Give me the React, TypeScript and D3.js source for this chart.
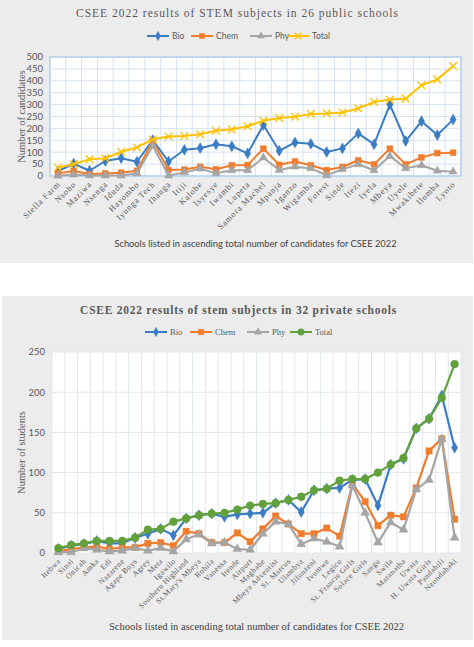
import React from "react";
import * as d3 from "d3";

const publicSchools = ["Stella Farm","Nsoho","Maziwa","Nsenga","Iduda","Hayombo","Iyunga Tech","Ihanga","Itiji","Kalobe","Isyesye","Iwambi","Lupeta","Samora Machel","Mpanja","Iganzo","Wigamba","Forest","Sinde","Itezi","Iyela","Mbeya","Uyole","Mwakibete","Ilomba","Lyoto"];
const pubBio = [20,52,22,63,75,60,151,61,110,117,133,125,95,214,106,141,135,101,116,179,133,300,147,230,172,237];
const pubChem = [11,21,8,11,14,22,147,25,27,39,28,45,46,115,47,61,45,25,38,66,49,115,49,78,96,98];
const pubPhy = [1,6,2,2,2,11,127,2,15,31,11,24,24,77,25,39,32,3,28,49,24,84,32,45,22,18];
const pubTotal = [35,50,71,74,102,120,154,166,168,175,190,196,209,232,244,249,261,263,267,284,311,321,325,381,406,462];
const pubTicks = [0,50,100,150,200,250,300,350,400,450,500];

const privSchools = ["Itebwa","Sinai","Onicah","Amka","Edi","Nazarene","Agape Boys","Agrey","Meta","Igawilo","Southern Highland","St.Mary's Mbeya","Rohila","Vanessa","Itende","Airport","Maghabe","Mbeya Adventist","St. Marcus","Ulambya","Jifunzeni","Ivumwe","Legico","St. Francis Girls","Solace Girls","Sangu","Swila","Maranatha","Uwata","H. Uwata Girls","Pandahili","Nzondahaki"];
const privBio = [5,9,11,15,12,12,19,24,30,22,43,47,49,45,48,49,50,62,66,51,78,80,81,91,92,59,110,117,155,167,196,131];
const privChem = [2,5,7,8,5,7,7,12,13,9,27,24,13,13,25,14,30,46,36,24,24,31,21,86,64,34,47,45,81,127,142,42];
const privPhy = [1,1,6,4,2,3,6,3,6,2,17,23,12,13,5,4,24,39,36,11,18,14,8,84,50,13,38,29,79,91,142,19];
const privTotal = [6,10,12,15,15,15,19,29,30,39,43,47,49,50,54,59,61,62,66,70,78,80,90,92,92,100,110,118,155,167,193,235];
const privTicks = [0,50,100,150,200,250];

const C = { bio: "#3b7dc4", chem: "#f07c2c", phy: "#a5a5a5", total: "#ffc000", green: "#62a03c" };
const serif = "'Liberation Serif', 'DejaVu Serif', serif";
const sans = "Lato, 'Open Sans', sans-serif";

type Series = { name: string; values: number[]; color: string; symbol: any; size: number; cross?: boolean };

function Marker({ x, y, s }: { x: number; y: number; s: Series }) {
  const path = d3.symbol().type(s.symbol).size(s.size)() as string;
  if (s.cross) {
    return <path d={path} transform={`translate(${x},${y})`} fill="none" stroke={s.color} strokeWidth={1.3} />;
  }
  return <path d={path} transform={`translate(${x},${y})`} fill={s.color} stroke={s.color} strokeWidth={0.5} />;
}

function Chart(props: {
  top: number; panelH: number; panelX: number; title: string; titleFont: string; titleBold: boolean; titleY: number;
  legendY: number; legendFont: string; legendX: number[];
  plot: { l: number; r: number; t: number; b: number }; yMax: number; ticks: number[];
  cats: string[]; series: Series[]; yLabel: string; xTitle: string; xTitleFont: string; xTitleY: number;
  border: boolean; gridColor: string; lineW: number; labelSize: number; labelSpacing: number;
}) {
  const p = props.plot;
  const x = d3.scaleBand().domain(props.cats).range([p.l, p.r]);
  const y = d3.scaleLinear().domain([0, props.yMax]).range([p.b, p.t]);
  const line = d3.line<number>().x((_, i) => x(props.cats[i])! + x.bandwidth() / 2).y((d) => y(d));
  const bounds = props.cats.map((c) => x(c)!).concat([p.r]);
  return (
    <g>
      <rect x={props.panelX} y={props.top} width={473 - props.panelX} height={props.panelH} fill="#ececec" />
      <text x={(p.l + p.r) / 2 - 18} y={props.titleY} textAnchor="middle" fontFamily={serif} fontSize={11.5}
        fontWeight={props.titleBold ? "bold" : "normal"} letterSpacing={props.titleBold ? 0.75 : 1.0} fill="#595959">{props.title}</text>
      {props.series.map((s, i) => (
        <g key={s.name} transform={`translate(${props.legendX[i]},${props.legendY})`}>
          <line x1={0} x2={22} y1={0} y2={0} stroke={s.color} strokeWidth={2} />
          <Marker x={11} y={0} s={{ ...s, size: s.size * 0.7 }} />
          <text x={25} y={0} dy="0.35em" fontFamily={props.legendFont} fontSize={8.5} fill="#595959">{s.name}</text>
        </g>
      ))}
      <rect x={p.l} y={p.t} width={p.r - p.l} height={p.b - p.t} fill="#ffffff" />
      {props.ticks.map((t) => (
        <line key={"h" + t} x1={p.l} x2={p.r} y1={y(t)} y2={y(t)} stroke={props.gridColor} strokeWidth={1} />
      ))}
      {bounds.map((b, i) => (
        <line key={"v" + i} x1={b} x2={b} y1={p.t} y2={p.b} stroke={props.gridColor} strokeWidth={1} />
      ))}
      {props.border && <rect x={p.l} y={p.t} width={p.r - p.l} height={p.b - p.t} fill="none" stroke="#9dc3e6" strokeWidth={1} />}
      {props.ticks.map((t) => (
        <text key={"t" + t} x={p.l - 7} y={y(t)} dy="0.35em" textAnchor="end" fontFamily={sans} fontSize={9.5} fill="#595959">{t}</text>
      ))}
      {props.series.map((s) => (
        <g key={s.name}>
          <path d={line(s.values)!} fill="none" stroke={s.color} strokeWidth={props.lineW} strokeLinejoin="round" />
          {s.values.map((v, i) => (
            <Marker key={i} x={x(props.cats[i])! + x.bandwidth() / 2} y={y(v)} s={s} />
          ))}
        </g>
      ))}
      {props.cats.map((c) => (
        <text key={c} transform={`translate(${x(c)! + x.bandwidth() / 2 + 1},${p.b + 7}) rotate(-45)`} textAnchor="end"
          dy="0.3em" fontFamily={serif} fontSize={props.labelSize} letterSpacing={props.labelSpacing} fill="#595959">{c}</text>
      ))}
      <text transform={`translate(21,${(p.t + p.b) / 2}) rotate(-90)`} textAnchor="middle" dy="0.35em" fontFamily={serif}
        fontSize={10.5} fill="#595959">{props.yLabel}</text>
      <text x={(p.l + p.r) / 2} y={props.xTitleY} textAnchor="middle" fontFamily={props.xTitleFont} fontSize={props.xTitleFont === serif ? 10.5 : 9.3}
        fill="#404040">{props.xTitle}</text>
    </g>
  );
}

export default function App() {
  const pubSeries: Series[] = [
    { name: "Bio", values: pubBio, color: C.bio, symbol: d3.symbolDiamond, size: 34 },
    { name: "Chem", values: pubChem, color: C.chem, symbol: d3.symbolSquare, size: 34 },
    { name: "Phy", values: pubPhy, color: C.phy, symbol: d3.symbolTriangle, size: 30 },
    { name: "Total", values: pubTotal, color: C.total, symbol: d3.symbolX, size: 40, cross: true },
  ];
  const privSeries: Series[] = [
    { name: "Bio", values: privBio, color: C.bio, symbol: d3.symbolDiamond, size: 34 },
    { name: "Chem", values: privChem, color: C.chem, symbol: d3.symbolSquare, size: 40 },
    { name: "Phy", values: privPhy, color: C.phy, symbol: d3.symbolTriangle, size: 34 },
    { name: "Total", values: privTotal, color: C.green, symbol: d3.symbolCircle, size: 48 },
  ];
  return (
    <svg width={474} height={647} style={{ position: "absolute", left: 0, top: 0, background: "#ffffff" }}>
      <Chart top={0} panelH={263} panelX={0} title="CSEE 2022 results of STEM subjects in 26 public schools" titleFont={serif}
        titleBold={false} titleY={17} legendY={36} legendFont={sans} legendX={[147, 191, 250, 287]}
        plot={{ l: 50, r: 461, t: 57, b: 176 }} yMax={500} ticks={pubTicks} cats={publicSchools} series={pubSeries}
        yLabel="Number of candidates" xTitle="Schools listed in ascending total number of candidates for CSEE 2022"
        xTitleFont={sans} xTitleY={247} border={true} gridColor="#d5e3f3" lineW={2} labelSize={8.5} labelSpacing={0.8} />
      <Chart top={296} panelH={344} panelX={2} title="CSEE 2022 results of stem subjects in 32 private schools" titleFont={serif}
        titleBold={true} titleY={314} legendY={332} legendFont={serif} legendX={[145, 190, 247, 290]}
        plot={{ l: 52, r: 461, t: 352, b: 553 }} yMax={250} ticks={privTicks} cats={privSchools} series={privSeries}
        yLabel="Number of students" xTitle="Schools listed in ascending total number of candidates for CSEE 2022"
        xTitleFont={serif} xTitleY={630} border={false} gridColor="#e1e7ef" lineW={2.2} labelSize={7.8} labelSpacing={0.45} />
    </svg>
  );
}
